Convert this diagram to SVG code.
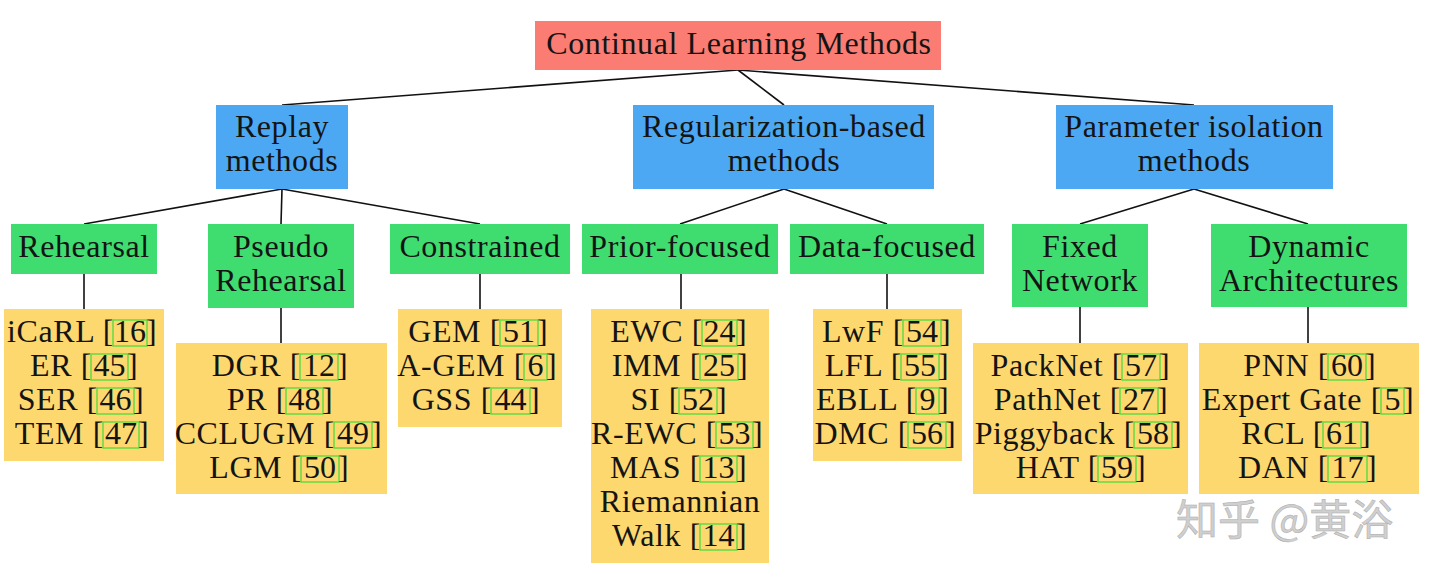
<svg xmlns="http://www.w3.org/2000/svg" width="1440" height="579" viewBox="0 0 1440 579">
<style>
.t{font-family:"Liberation Serif","DejaVu Serif","Times New Roman",serif;font-size:32px;fill:#141414;letter-spacing:0.6px}
.m{text-anchor:middle}
.e{text-anchor:end}
.n{letter-spacing:0}
.root{fill:#fa7c72}
.blue{fill:#4ca8f2}
.green{fill:#3fdd6f}
.yel{fill:#fdd86f}
.c{fill:none;stroke:#4ddc3c;stroke-width:1.3}
.ln{stroke:#111;stroke-width:1.6;fill:none}
.wm{font-family:"Noto Sans CJK SC","Noto Sans",sans-serif;font-size:42px;fill:#cfcfcf;stroke:#aaaaaa;stroke-width:0.5}
</style>
<rect width="1440" height="579" fill="#ffffff"/>
<g id="connectors">
<line class="ln" x1="738" y1="70" x2="282" y2="105"/>
<line class="ln" x1="738" y1="70" x2="784" y2="105"/>
<line class="ln" x1="738" y1="70" x2="1194" y2="105"/>
<line class="ln" x1="282" y1="189" x2="84" y2="224"/>
<line class="ln" x1="282" y1="189" x2="281" y2="224"/>
<line class="ln" x1="282" y1="189" x2="480" y2="224"/>
<line class="ln" x1="784" y1="189" x2="680" y2="224"/>
<line class="ln" x1="784" y1="189" x2="887" y2="224"/>
<line class="ln" x1="1194" y1="189" x2="1080" y2="224"/>
<line class="ln" x1="1194" y1="189" x2="1308" y2="224"/>
<line class="ln" x1="84" y1="274" x2="84" y2="309"/>
<line class="ln" x1="281" y1="308" x2="281" y2="343"/>
<line class="ln" x1="480" y1="274" x2="480" y2="309"/>
<line class="ln" x1="681" y1="274" x2="681" y2="309"/>
<line class="ln" x1="887" y1="274" x2="887" y2="309"/>
<line class="ln" x1="1080" y1="307" x2="1080" y2="343"/>
<line class="ln" x1="1308" y1="307" x2="1308" y2="343"/>
</g>
<g id="root">
<rect class="root" x="535" y="21" width="406" height="49"/>
<text class="t m" x="739" y="54">Continual Learning Methods</text>
</g>
<g id="replay">
<rect class="blue" x="216" y="105" width="132" height="84"/>
<text class="t m" x="282" y="137">Replay</text>
<text class="t m" x="282" y="171">methods</text>
</g>
<g id="regularization">
<rect class="blue" x="633" y="105" width="301" height="84"/>
<text class="t m" x="784" y="137">Regularization-based</text>
<text class="t m" x="784" y="171">methods</text>
</g>
<g id="isolation">
<rect class="blue" x="1056" y="105" width="277" height="84"/>
<text class="t m" x="1194" y="137">Parameter isolation</text>
<text class="t m" x="1194" y="171">methods</text>
</g>
<g id="rehearsal">
<rect class="green" x="11" y="224" width="146" height="50"/>
<text class="t m" x="84" y="257">Rehearsal</text>
</g>
<g id="pseudo">
<rect class="green" x="208" y="224" width="146" height="84"/>
<text class="t m" x="281" y="257">Pseudo</text>
<text class="t m" x="281" y="291">Rehearsal</text>
</g>
<g id="constrained">
<rect class="green" x="390" y="224" width="180" height="50"/>
<text class="t m" x="480" y="257">Constrained</text>
</g>
<g id="prior">
<rect class="green" x="582" y="224" width="196" height="50"/>
<text class="t m" x="680" y="257">Prior-focused</text>
</g>
<g id="data">
<rect class="green" x="790" y="224" width="194" height="50"/>
<text class="t m" x="887" y="257">Data-focused</text>
</g>
<g id="fixed">
<rect class="green" x="1012" y="224" width="136" height="83"/>
<text class="t m" x="1080" y="257">Fixed</text>
<text class="t m" x="1080" y="291">Network</text>
</g>
<g id="dynamic">
<rect class="green" x="1211" y="224" width="196" height="83"/>
<text class="t m" x="1309" y="257">Dynamic</text>
<text class="t m" x="1309" y="291">Architectures</text>
</g>
<g id="rehearsal-list">
<rect class="yel" x="4" y="309" width="160" height="152"/>
<text class="t e" x="114" y="342">iCaRL [</text><rect class="c" x="113" y="320" width="34" height="26"/><text class="t m n" x="130" y="342">16</text><text class="t" x="146" y="342">]</text>
<text class="t e" x="92" y="376">ER [</text><rect class="c" x="91" y="354" width="37" height="26"/><text class="t m n" x="109.5" y="376">45</text><text class="t" x="127" y="376">]</text>
<text class="t e" x="98" y="410">SER [</text><rect class="c" x="97" y="388" width="37" height="26"/><text class="t m n" x="115.5" y="410">46</text><text class="t" x="133" y="410">]</text>
<text class="t e" x="104" y="444">TEM [</text><rect class="c" x="103" y="422" width="36" height="26"/><text class="t m n" x="121" y="444">47</text><text class="t" x="138" y="444">]</text>
</g>
<g id="pseudo-list">
<rect class="yel" x="176" y="343" width="211" height="151"/>
<text class="t e" x="301" y="376">DGR [</text><rect class="c" x="300" y="354" width="38" height="26"/><text class="t m n" x="319" y="376">12</text><text class="t" x="337" y="376">]</text>
<text class="t e" x="287" y="410">PR [</text><rect class="c" x="286" y="388" width="37" height="26"/><text class="t m n" x="304.5" y="410">48</text><text class="t" x="322" y="410">]</text>
<text class="t e" x="335" y="444">CCLUGM [</text><rect class="c" x="334" y="422" width="38" height="26"/><text class="t m n" x="353" y="444">49</text><text class="t" x="371" y="444">]</text>
<text class="t e" x="302" y="478">LGM [</text><rect class="c" x="301" y="456" width="38" height="26"/><text class="t m n" x="320" y="478">50</text><text class="t" x="338" y="478">]</text>
</g>
<g id="constrained-list">
<rect class="yel" x="398" y="309" width="164" height="118"/>
<text class="t e" x="501" y="342">GEM [</text><rect class="c" x="500" y="320" width="38" height="26"/><text class="t m n" x="519" y="342">51</text><text class="t" x="537" y="342">]</text>
<text class="t e" x="525" y="376">A-GEM [</text><rect class="c" x="524" y="354" width="23" height="26"/><text class="t m n" x="535.5" y="376">6</text><text class="t" x="546" y="376">]</text>
<text class="t e" x="492" y="410">GSS [</text><rect class="c" x="491" y="388" width="39" height="26"/><text class="t m n" x="510.5" y="410">44</text><text class="t" x="529" y="410">]</text>
</g>
<g id="prior-list">
<rect class="yel" x="591" y="309" width="178" height="254"/>
<text class="t e" x="703" y="342">EWC [</text><rect class="c" x="702" y="320" width="35" height="26"/><text class="t m n" x="719.5" y="342">24</text><text class="t" x="736" y="342">]</text>
<text class="t e" x="701" y="376">IMM [</text><rect class="c" x="700" y="354" width="38" height="26"/><text class="t m n" x="719" y="376">25</text><text class="t" x="737" y="376">]</text>
<text class="t e" x="680" y="410">SI [</text><rect class="c" x="679" y="388" width="38" height="26"/><text class="t m n" x="698" y="410">52</text><text class="t" x="716" y="410">]</text>
<text class="t e" x="717" y="444">R-EWC [</text><rect class="c" x="716" y="422" width="37" height="26"/><text class="t m n" x="734.5" y="444">53</text><text class="t" x="752" y="444">]</text>
<text class="t e" x="701" y="478">MAS [</text><rect class="c" x="700" y="456" width="37" height="26"/><text class="t m n" x="718.5" y="478">13</text><text class="t" x="736" y="478">]</text>
<text class="t m" x="680" y="512">Riemannian</text>
<text class="t e" x="701" y="546">Walk [</text><rect class="c" x="700" y="524" width="37" height="26"/><text class="t m n" x="718.5" y="546">14</text><text class="t" x="736" y="546">]</text>
</g>
<g id="data-list">
<rect class="yel" x="813" y="309" width="149" height="152"/>
<text class="t e" x="904" y="342">LwF [</text><rect class="c" x="903" y="320" width="38" height="26"/><text class="t m n" x="922" y="342">54</text><text class="t" x="940" y="342">]</text>
<text class="t e" x="902" y="376">LFL [</text><rect class="c" x="901" y="354" width="38" height="26"/><text class="t m n" x="920" y="376">55</text><text class="t" x="938" y="376">]</text>
<text class="t e" x="917" y="410">EBLL [</text><rect class="c" x="916" y="388" width="23" height="26"/><text class="t m n" x="927.5" y="410">9</text><text class="t" x="938" y="410">]</text>
<text class="t e" x="909" y="444">DMC [</text><rect class="c" x="908" y="422" width="38" height="26"/><text class="t m n" x="927" y="444">56</text><text class="t" x="945" y="444">]</text>
</g>
<g id="fixed-list">
<rect class="yel" x="973" y="343" width="215" height="151"/>
<text class="t e" x="1123" y="376">PackNet [</text><rect class="c" x="1122" y="354" width="38" height="26"/><text class="t m n" x="1141" y="376">57</text><text class="t" x="1159" y="376">]</text>
<text class="t e" x="1121" y="410">PathNet [</text><rect class="c" x="1120" y="388" width="38" height="26"/><text class="t m n" x="1139" y="410">27</text><text class="t" x="1157" y="410">]</text>
<text class="t e" x="1135" y="444">Piggyback [</text><rect class="c" x="1134" y="422" width="38" height="26"/><text class="t m n" x="1153" y="444">58</text><text class="t" x="1171" y="444">]</text>
<text class="t e" x="1099" y="478">HAT [</text><rect class="c" x="1098" y="456" width="38" height="26"/><text class="t m n" x="1117" y="478">59</text><text class="t" x="1135" y="478">]</text>
</g>
<g id="dynamic-list">
<rect class="yel" x="1199" y="343" width="220" height="151"/>
<text class="t e" x="1329" y="376">PNN [</text><rect class="c" x="1328" y="354" width="38" height="26"/><text class="t m n" x="1347" y="376">60</text><text class="t" x="1365" y="376">]</text>
<text class="t e" x="1382" y="410">Expert Gate [</text><rect class="c" x="1381" y="388" width="23" height="26"/><text class="t m n" x="1392.5" y="410">5</text><text class="t" x="1403" y="410">]</text>
<text class="t e" x="1324" y="444">RCL [</text><rect class="c" x="1323" y="422" width="38" height="26"/><text class="t m n" x="1342" y="444">61</text><text class="t" x="1360" y="444">]</text>
<text class="t e" x="1329" y="478">DAN [</text><rect class="c" x="1328" y="456" width="39" height="26"/><text class="t m n" x="1347.5" y="478">17</text><text class="t" x="1366" y="478">]</text>
</g>
<text class="wm" x="1176" y="535">知乎 @黄浴</text>
</svg>
